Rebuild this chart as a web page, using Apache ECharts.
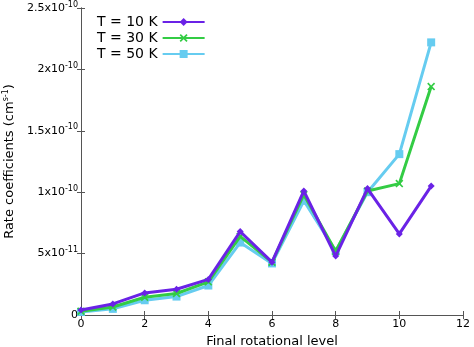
<!DOCTYPE html>
<html><head><meta charset="utf-8">
<script src="https://cdn.jsdelivr.net/npm/echarts@6/dist/echarts.min.js"></script>
<style>html,body{margin:0;padding:0;background:#fff}#c{width:474px;height:347px}</style>
</head><body><div id="c"></div>
<script>
const levels = [0,1,2,3,4,5,6,7,8,9,10,11];
const t10 = [4e-12, 9e-12, 1.8e-11, 2.1e-11, 2.9e-11, 6.8e-11, 4.3e-11, 1.01e-10, 4.8e-11, 1.03e-10, 6.6e-11, 1.05e-10];
const t30 = [3e-12, 6.5e-12, 1.45e-11, 1.75e-11, 2.7e-11, 6.4e-11, 4.3e-11, 9.8e-11, 5.2e-11, 1.01e-10, 1.07e-10, 1.86e-10];
const t50 = [2.5e-12, 5e-12, 1.2e-11, 1.5e-11, 2.4e-11, 5.9e-11, 4.2e-11, 9.3e-11, 5.2e-11, 1.0e-10, 1.31e-10, 2.22e-10];
const seriesNames = ['T = 10 K', 'T = 30 K', 'T = 50 K'];
const yTickMant = ['0', '5x10', '1x10', '1.5x10', '2x10', '2.5x10'];
const yTickExp = ['', '-11', '-10', '-10', '-10', '-10'];

const font = 'DejaVu Sans';
const colors = ['#6a22e6', '#33cc44', '#66ccf0'];
const crossPath = 'path://M0,1.5L1.5,0L5,3.5L8.5,0L10,1.5L6.5,5L10,8.5L8.5,10L5,6.5L1.5,10L0,8.5L3.5,5Z';

const chart = echarts.init(document.getElementById('c'));
const mk = a => levels.map((x, i) => [x, a[i]]);
chart.setOption({
  animation: false,
  textStyle: {fontFamily: font},
  grid: {left: 81, right: 11, top: 8, bottom: 32, containLabel: false, outerBoundsMode: 'none'},
  legend: {
    orient: 'vertical', left: 92, top: 10, align: 'right',
    itemWidth: 42, itemHeight: 10, itemGap: 2,
    textStyle: {fontFamily: font, fontSize: 14, color: '#000'},
    data: seriesNames
  },
  xAxis: [{
    type: 'value', min: 0, max: 12, interval: 2, position: 'bottom',
    name: 'Final rotational level', nameLocation: 'middle', nameGap: 18,
    nameTextStyle: {fontFamily: font, fontSize: 13, color: '#000'},
    axisLine: {lineStyle: {color: '#555', width: 1}},
    axisTick: {inside: true, length: 4, lineStyle: {color: '#555'}},
    axisLabel: {fontFamily: font, fontSize: 11, color: '#000', margin: 4},
    splitLine: {show: false}
  }, {
    type: 'value', min: 0, max: 12, interval: 2, position: 'top',
    axisLine: {show: true, lineStyle: {color: '#555', width: 1}},
    axisTick: {inside: true, length: 4, lineStyle: {color: '#555'}},
    axisLabel: {show: false}, splitLine: {show: false}
  }],
  yAxis: [{
    type: 'value', min: 0, max: 2.5e-10, interval: 5e-11, position: 'left',
    name: 'Rate coefficients (cm{sup|s-1})', nameLocation: 'middle', nameGap: 61,
    nameTextStyle: {fontFamily: font, fontSize: 13, color: '#000',
      rich: {sup: {fontFamily: font, fontSize: 8, color: '#000', padding: [0,0,8,0]}}},
    axisLine: {show: true, lineStyle: {color: '#555', width: 1}},
    axisTick: {inside: true, length: 4, lineStyle: {color: '#555'}},
    axisLabel: {
      margin: 3, fontFamily: font, fontSize: 11, color: '#000',
      formatter: (v) => {
        const i = Math.round(v / 5e-11);
        return yTickExp[i] ? yTickMant[i] + '{sup|' + yTickExp[i] + '}' : yTickMant[i];
      },
      rich: {sup: {fontFamily: font, fontSize: 8, color: '#000', padding: [0,0,7,0]}}
    },
    splitLine: {show: false}
  }, {
    type: 'value', min: 0, max: 2.5e-10, interval: 5e-11, position: 'right',
    axisLine: {show: true, lineStyle: {color: '#555', width: 1}},
    axisTick: {inside: true, length: 4, lineStyle: {color: '#555'}},
    axisLabel: {show: false}, splitLine: {show: false}
  }],
  series: [
    {name: seriesNames[0], type: 'line', data: mk(t10), color: colors[0],
     lineStyle: {width: 3}, symbol: 'diamond', symbolSize: 7, showSymbol: true,
     itemStyle: {color: colors[0]}, z: 3},
    {name: seriesNames[1], type: 'line', data: mk(t30), color: colors[1],
     lineStyle: {width: 3}, symbol: crossPath, symbolSize: 8, showSymbol: true,
     itemStyle: {color: colors[1]}, z: 2},
    {name: seriesNames[2], type: 'line', data: mk(t50), color: colors[2],
     lineStyle: {width: 3}, symbol: 'rect', symbolSize: 8, showSymbol: true,
     itemStyle: {color: colors[2]}, z: 1}
  ]
});
</script></body></html>
